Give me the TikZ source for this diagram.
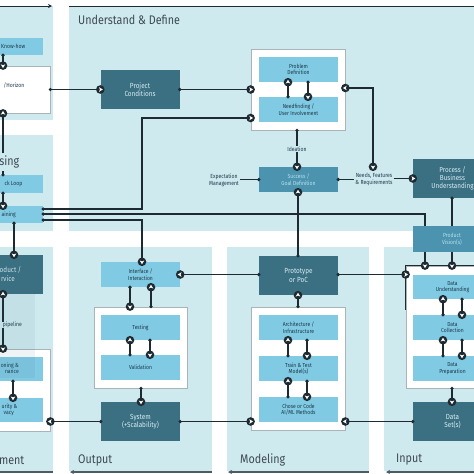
\documentclass[tikz,border=0pt]{standalone}
\usepackage{fontspec}
\setmainfont{Fira Sans}[FakeStretch=0.86]
\usetikzlibrary{arrows.meta}
\pgfdeclarelayer{back}
\pgfdeclarelayer{mid}
\pgfsetlayers{back,mid,main}
\definecolor{panel}{HTML}{CFEAEF}
\definecolor{lightbox}{HTML}{80CAE4}
\definecolor{darkbox}{HTML}{3B6F82}
\definecolor{midbox}{HTML}{4B93AE}
\definecolor{darktext}{HTML}{D6EDF4}
\definecolor{midtext}{HTML}{B8E0EE}
\definecolor{lighttext}{HTML}{1E3A4A}
\definecolor{linec}{HTML}{1D2A31}
\definecolor{framec}{HTML}{A9B4B8}
\definecolor{titlec}{HTML}{3D4A52}
\definecolor{edgec}{HTML}{4F5B61}
\tikzset{
  lbox/.style={rectangle, fill=lightbox, text=lighttext, minimum width=79pt, minimum height=25pt,
    inner sep=0pt, align=center, font=\fontsize{5.8}{6.6}\selectfont},
  dbox/.style={rectangle, fill=darkbox, text=darktext, minimum width=79pt, minimum height=39pt,
    inner sep=0pt, align=center, font=\fontsize{7.4}{8.2}\selectfont},
  mbox/.style={rectangle, fill=midbox, text=midtext, minimum width=79pt, minimum height=25pt,
    inner sep=0pt, align=center, font=\fontsize{5.9}{6.8}\selectfont},
  cont/.style={rectangle, fill=white, draw=framec, line width=0.8pt, inner sep=0pt},
  conn/.style={draw=linec, line width=1.1pt},
  stext/.style={text=lighttext, inner sep=1pt, align=center, font=\fontsize{5.9}{6.7}\selectfont},
  dtext/.style={text=darktext, inner sep=0pt, font=\fontsize{7.4}{8.2}\selectfont},
  ptitle/.style={text=titlec, inner sep=0pt, font=\fontsize{12.5}{14}\selectfont},
  topedge/.style={draw=linec, line width=1pt},
  botedge/.style={draw=edgec, line width=1.2pt},
  cin/.pic={\fill[linec] (0,0) circle (4.3pt);
            \fill[white] (2.5,0) -- (-1.3,2.3) -- (-0.4,0) -- (-1.3,-2.3) -- cycle;}
}
\newcommand\mydot[1]{\fill[linec] #1 circle (1.8pt);}
\newcommand\mytip[2]{\pic[rotate=#2] at #1 {cin};}
\begin{document}
\begin{tikzpicture}[x=1pt,y=-1pt]
\useasboundingbox (0,0) rectangle (474,474);
\begin{pgfonlayer}{back}
  \fill[white] (0,0) rectangle (474,474);
  \fill[panel] (-30,6) rectangle (53,120);
  \fill[panel] (-30,135) rectangle (53,231);
  \fill[panel] (-30,247) rectangle (53,471);
  \fill[panel] (69,6) rectangle (500,231);
  \fill[panel] (69,247) rectangle (212,471);
  \fill[panel] (227,247) rectangle (369,471);
  \fill[panel] (384,247) rectangle (500,471);
  \node[cont, minimum width=94pt, minimum height=47pt] (horizon) at (3,89.5) {};
  \node[cont, minimum width=94pt, minimum height=81pt] (probc) at (298,89.5) {};
  \node[cont, minimum width=93pt, minimum height=81pt] (outc) at (140.5,347.5) {};
  \node[cont, minimum width=94pt, minimum height=123pt] (modc) at (298,368.5) {};
  \node[cont, minimum width=93pt, minimum height=122pt] (inc) at (452.5,327) {};
  \node[cont, minimum width=94pt, minimum height=82pt] (depc) at (3,390) {};
\end{pgfonlayer}
% edges of the panels
\draw[topedge, -{Stealth[length=4pt,width=4pt]}] (-10,6) -- (52,6);
\draw[topedge] (69,6) -- (490,6);
\draw[botedge] (-10,472) -- (53,472);
\draw[botedge, {Stealth[length=4pt,width=4pt]}-] (70,472) -- (212,472);
\draw[botedge, {Stealth[length=4pt,width=4pt]}-] (228,472) -- (369,472);
\draw[botedge, {Stealth[length=4pt,width=4pt]}-] (386,472) -- (490,472);
% boxes: left column
\node[lbox, minimum height=17pt] (know) at (3.5,46.5) {};
\node[stext, anchor=east, inner sep=0pt] at (25.5,46.5) {Know-how};
\node[stext, anchor=east, inner sep=0pt] at (24.5,85) {/Horizon};
\node[lbox, minimum height=18pt] (feed) at (3.5,184) {};
\node[stext, anchor=east, inner sep=0pt] at (22.5,184) {ck Loop};
\node[lbox, minimum height=17pt] (retrain) at (3.5,214.5) {};
\node[stext, anchor=east, inner sep=0pt] at (16,214.5) {aining};
\node[dbox] (prod) at (3.5,274.5) {};
\node[dtext, anchor=east] at (21.5,270) {oduct /};
\node[dtext, anchor=east] at (15,278.5) {rvice};
\node[lbox, minimum height=24pt] (vers) at (3.5,369) {};
\node[stext, anchor=east, inner sep=0pt] at (19,365.5) {oning \&};
\node[stext, anchor=east, inner sep=0pt] at (19,372) {nance};
\node[lbox, minimum height=24pt] (sec) at (3.5,410) {};
\node[stext, anchor=east, inner sep=0pt] at (17.5,407) {urity \&};
\node[stext, anchor=east, inner sep=0pt] at (14,413.5) {vacy};
% understand & define
\node[dbox] (proj) at (140,89.5) {Project\\Conditions};
\node[lbox] (probdef) at (298.5,69.5) {Problem\\Definition};
\node[lbox] (need) at (298.5,109.5) {Needfinding /\\User Involvement};
\node[mbox] (succ) at (298.5,179.5) {Success /\\Goal Definition};
\node[dbox, font=\fontsize{7.3}{8.3}\selectfont] (proc) at (452.5,178.5) {Process /\\Business\\Understanding};
\node[mbox, minimum height=26pt] (vis) at (452,239) {Product\\Vision(s)};
% output
\node[lbox] (inter) at (140.5,274.5) {Interface /\\Interaction};
\node[lbox] (test) at (140.5,327.5) {Testing};
\node[lbox] (valid) at (140.5,367.5) {Validation};
\node[dbox] (sys) at (140.5,421.5) {System\\(+Scalability)};
% modeling
\node[dbox] (proto) at (298.5,275.5) {Prototype\\or PoC};
\node[lbox] (arch) at (298.5,327.5) {Architecture /\\Infrastructure};
\node[lbox] (train) at (298.5,368.5) {Train \& Test\\Model(s)};
\node[lbox] (chose) at (298.5,409.5) {Chose or Code\\AI/ML Methods};
% input
\node[lbox, minimum height=24pt] (dund) at (452.5,287) {Data\\Understanding};
\node[lbox] (dcol) at (452.5,327.5) {Data\\Collection};
\node[lbox] (dprep) at (452.5,368.5) {Data\\Preparation};
\node[dbox] (dset) at (452.5,421.5) {Data\\Set(s)};
% labels
\node[stext, fill=panel] (idea) at (297,149) {Ideation};
\node[stext] (expect) at (224,180) {Expectation\\Management};
\node[stext] (needs) at (374,179.5) {Needs, Features\\\& Requirements};
\node[stext, fill=panel, anchor=east, inner sep=0.5pt] (pipe) at (22.5,325) {pipeline};
% titles
\node[ptitle, anchor=west] at (78,20) {Understand \& Define};
\node[ptitle, anchor=east, fill=panel, inner ysep=3pt] (proctitle) at (19.5,162) {sing};
\node[ptitle, anchor=east] at (24.5,460) {ment};
\node[ptitle, anchor=west] at (78,460) {Output};
\node[ptitle, anchor=west] at (240,460) {Modeling};
\node[ptitle, anchor=west] at (396,460) {Input};
% overlay in deployment
\fill[darkbox, opacity=0.08] (-30,255) rectangle (35,378);
% connector lines
\begin{pgfonlayer}{mid}
  \draw[conn, line width=0.9pt] (inc.north -| 480,0) -- (inc.north west) -- (inc.west |- 0,310);
  \draw[conn] (3,0 |- know.south) -- (3,0 |- horizon.north);
  \draw[conn] (3,0 |- feed.north) -- (3,0 |- horizon.south);
  \draw[conn] (3,0 |- feed.south) -- (3,0 |- retrain.north);
  \draw[conn] (horizon.east) -- (proj.west);
  \draw[conn] (proj.east) -- (probc.west);
  \draw[conn] (retrain.east |- 0,209) -- (142,209) -- (142,118) -- (probc.west |- 0,118);
  \draw[conn] (retrain.east |- 0,214) -- (425,214) -- (425,0 |- inc.north);
  \draw[conn] (retrain.east |- 0,220) -- (142,220) -- (142,0 |- inter.north);
  \draw[conn] (14,0 |- retrain.south) -- (14,0 |- prod.north);
  \draw[conn] (3,0 |- prod.south) -- (3,0 |- depc.north);
  \draw[conn] (13,0 |- vers.south) -- (13,0 |- sec.north);
  \draw[conn] (288,0 |- probdef.south) -- (288,0 |- need.north);
  \draw[conn] (308,0 |- probdef.south) -- (308,0 |- need.north);
  \draw[conn] (297,0 |- probc.south) -- (297,0 |- succ.north);
  \draw[conn] (expect.east |- succ.west) -- (succ.west);
  \draw[conn] (succ.east) -- (needs.west |- succ.east);
  \draw[conn] (needs.east |- proc.west) -- (proc.west);
  \draw[conn] (probc.east |- 0,88) -- (373,88) -- (373,0 |- succ.north);
  \draw[conn] (452,0 |- proc.south) -- (452,0 |- vis.north);
  \draw[conn] (452,0 |- vis.south) -- (452,0 |- inc.north);
  \draw[conn] (130,0 |- inter.south) -- (130,0 |- outc.north);
  \draw[conn] (151,0 |- inter.south) -- (151,0 |- outc.north);
  \draw[conn] (130,0 |- test.south) -- (130,0 |- valid.north);
  \draw[conn] (150,0 |- test.south) -- (150,0 |- valid.north);
  \draw[conn] (141,0 |- outc.south) -- (141,0 |- sys.north);
  \draw[conn] (sys.west) -- (depc.east |- sys.west);
  \draw[conn] (sys.east) -- (modc.west |- sys.east);
  \draw[conn] (proto.west |- inter.east) -- (inter.east);
  \draw[conn] (proto.east |- inter.east) -- (inc.west |- inter.east);
  \draw[conn] (298,0 |- proto.north) -- (298,0 |- succ.south);
  \draw[conn] (298,0 |- modc.north) -- (298,0 |- proto.south);
  \draw[conn] (288,0 |- arch.south) -- (288,0 |- train.north);
  \draw[conn] (307,0 |- arch.south) -- (307,0 |- train.north);
  \draw[conn] (288,0 |- train.south) -- (288,0 |- chose.north);
  \draw[conn] (307,0 |- train.south) -- (307,0 |- chose.north);
  \draw[conn] (dset.west) -- (modc.east |- dset.west);
  \draw[conn] (452,0 |- inc.south) -- (452,0 |- dset.north);
  \draw[conn] (443,0 |- dund.south) -- (443,0 |- dcol.north);
  \draw[conn] (462,0 |- dund.south) -- (462,0 |- dcol.north);
  \draw[conn] (443,0 |- dcol.south) -- (443,0 |- dprep.north);
  \draw[conn] (462,0 |- dcol.south) -- (462,0 |- dprep.north);
\end{pgfonlayer}
% dots and arrow circles
\mydot{(3,0 |- know.south)} \mytip{(3,0 |- horizon.north)}{-90}
\mydot{(3,0 |- feed.north)} \mytip{(3,0 |- horizon.south)}{90}
\mydot{(3,0 |- feed.south)} \mytip{(3,0 |- retrain.north)}{-90}
\mydot{(horizon.east)} \mytip{(proj.west)}{0}
\mydot{(proj.east)} \mytip{(probc.west)}{0}
\mydot{(retrain.east |- 0,209)} \mytip{(probc.west |- 0,118)}{0}
\mydot{(retrain.east |- 0,214)} \mytip{(425,0 |- inc.north)}{-90}
\mydot{(retrain.east |- 0,220)} \mytip{(142,0 |- inter.north)}{-90}
\mydot{(14,0 |- retrain.south)} \mytip{(14,0 |- prod.north)}{-90}
\mytip{(3,0 |- prod.south)}{90} \mytip{(3,0 |- depc.north)}{-90}
\mydot{(13,0 |- vers.south)} \mytip{(13,0 |- sec.north)}{-90}
\mytip{(288,0 |- probdef.south)}{90} \mydot{(288,0 |- need.north)}
\mydot{(308,0 |- probdef.south)} \mytip{(308,0 |- need.north)}{-90}
\mydot{(297,0 |- probc.south)} \mytip{(297,0 |- succ.north)}{-90}
\mydot{(succ.west)}
\mydot{(succ.east)} \mytip{(proc.west)}{0}
\mytip{(probc.east |- 0,88)}{180} \mytip{(373,0 |- succ.north)}{-90}
\mydot{(452,0 |- proc.south)}
\mytip{(452,0 |- inc.north)}{-90}
\mydot{(130,0 |- inter.south)} \mytip{(130,0 |- outc.north)}{-90}
\mydot{(151,0 |- outc.north)} \mytip{(151,0 |- inter.south)}{90}
\mytip{(130,0 |- test.south)}{90} \mydot{(130,0 |- valid.north)}
\mydot{(150,0 |- test.south)} \mytip{(150,0 |- valid.north)}{-90}
\mydot{(141,0 |- outc.south)} \mytip{(141,0 |- sys.north)}{-90}
\mydot{(sys.west)} \mytip{(depc.east |- sys.west)}{180}
\mydot{(sys.east)} \mytip{(modc.west |- sys.east)}{0}
\mydot{(proto.west |- inter.east)} \mytip{(inter.east)}{180}
\mydot{(proto.east |- inter.east)} \mytip{(inc.west |- inter.east)}{0}
\mydot{(298,0 |- proto.north)} \mytip{(298,0 |- succ.south)}{90}
\mydot{(298,0 |- modc.north)} \mytip{(298,0 |- proto.south)}{90}
\mytip{(288,0 |- arch.south)}{90} \mydot{(288,0 |- train.north)}
\mydot{(307,0 |- arch.south)} \mytip{(307,0 |- train.north)}{-90}
\mytip{(288,0 |- train.south)}{90} \mydot{(288,0 |- chose.north)}
\mydot{(307,0 |- train.south)} \mytip{(307,0 |- chose.north)}{-90}
\mydot{(dset.west)} \mytip{(modc.east |- dset.west)}{180}
\mydot{(452,0 |- inc.south)} \mytip{(452,0 |- dset.north)}{-90}
\mytip{(443,0 |- dund.south)}{90} \mydot{(443,0 |- dcol.north)}
\mydot{(462,0 |- dund.south)} \mytip{(462,0 |- dcol.north)}{-90}
\mytip{(443,0 |- dcol.south)}{90} \mydot{(443,0 |- dprep.north)}
\mydot{(462,0 |- dcol.south)} \mytip{(462,0 |- dprep.north)}{-90}
\end{tikzpicture}
\end{document}
